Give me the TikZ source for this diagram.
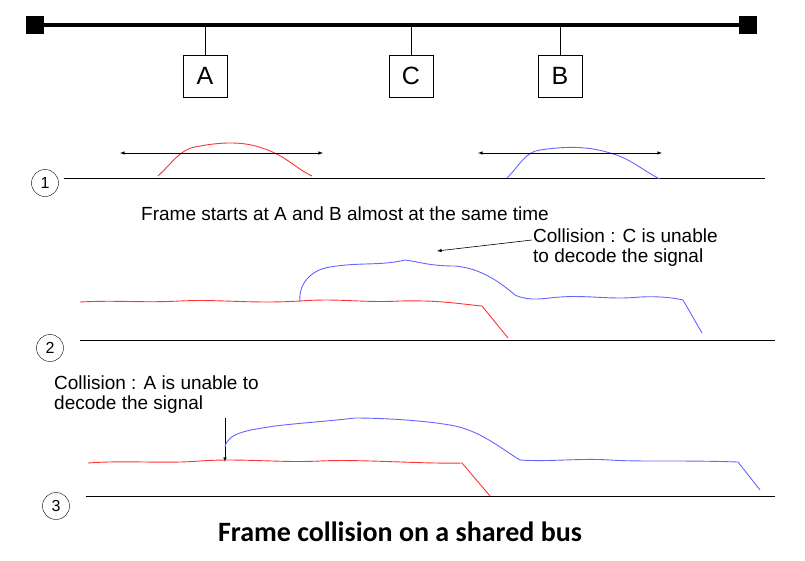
\documentclass[tikz,border=0pt]{standalone}
\usepackage{fontspec}
\setmainfont{Liberation Sans}
\newfontfamily\titlefont{Carlito}
\begin{document}
\begin{tikzpicture}[x=1pt,y=-1pt,
  station/.style={draw,thick,minimum width=44pt,minimum height=42pt,font=\fontsize{25}{28}\selectfont,inner sep=0pt},
  num/.style={draw,circle,minimum size=27pt,inner sep=0pt,font=\fontsize{16}{18}\selectfont},
  lbl/.style={font=\fontsize{19}{20}\selectfont,align=left,anchor=west,inner sep=1pt},
  redw/.style={draw=red!80!white,line width=0.9pt},
  bluew/.style={draw=blue!60!white,line width=0.9pt},
  arr/.style={-latex,line width=0.6pt}]
\useasboundingbox (0,0) rectangle (805,560);
% bus
\coordinate (L) at (35,25); \coordinate (R) at (748,25);
\draw[line width=3.2pt] (L) -- (R);
\fill (L) ++(-9,-9) rectangle ++(18,18);
\fill (R) ++(-9,-9) rectangle ++(18,18);
\node[station] (A) at (205,76) {A};
\node[station] (C) at (411,76) {C};
\node[station] (B) at (560,76) {B};
\draw (A.north) -- (205,25);
\draw (C.north) -- (411,25);
\draw (B.north) -- (560,25);
% row 1
\node[num] (n1) at (45,183) {1};
\coordinate (b1) at (765,178);
\draw (n1.east) ++(5,-5) -- (b1);
\draw[redw] (158,176) .. controls (175,160) and (180,150) .. (195,147) .. controls (215,143) and (240,140) .. (262,148) .. controls (285,155) and (295,168) .. (312,176);
\coordinate (a1l) at (120,153); \coordinate (a1r) at (323,153);
\draw[latex-latex,line width=0.6pt] (a1l) -- (a1r);
\draw[bluew] (507,178) .. controls (520,165) and (525,152) .. (540,150) .. controls (560,147) and (585,145) .. (610,153) .. controls (630,158) and (645,172) .. (660,179);
\coordinate (a2l) at (478,153); \coordinate (a2r) at (662,153);
\draw[latex-latex,line width=0.6pt] (a2l) -- (a2r);
\node[lbl] (t1) at (140,214) {Frame starts at A and B almost at the same time};
% row 2
\node[lbl] (tc) at (532,248) {Collision : C is unable\\to decode the signal};
\coordinate (tcarr) at (437,251);
\draw[arr] (tc.west) ++(0,-8) -- (tcarr);
\node[num] (n2) at (50,348) {2};
\draw (80,340) -- (775,340);
\draw[redw] (80,302) .. controls (120,300) and (140,303) .. (180,301) .. controls (220,299) and (250,304) .. (300,301) .. controls (340,298) and (360,303) .. (400,301) .. controls (440,300) and (460,304) .. (482,306) -- (508,338);
\draw[bluew] (300,302) .. controls (298,285) and (310,270) .. (330,267) .. controls (360,262) and (380,266) .. (405,260) .. controls (420,262) and (430,266) .. (455,266) .. controls (480,268) and (500,282) .. (515,295) .. controls (530,302) and (545,298) .. (560,297) .. controls (590,295) and (610,300) .. (640,297) .. controls (660,296) and (675,298) .. (683,300) -- (702,333);
% row 3
\node[lbl] (t3) at (53,395) {Collision : A is unable to\\decode the signal};
\coordinate (a3s) at (225,418); \coordinate (a3e) at (225,462);
\draw[arr] (a3s) -- (a3e);
\node[num] (n3) at (56,506) {3};
\draw (86,496) -- (775,496);
\draw[redw] (88,463) .. controls (130,460) and (160,464) .. (200,461) .. controls (240,458) and (280,463) .. (320,461) .. controls (360,459) and (420,464) .. (462,463) -- (490,496);
\draw[bluew] (225,447) .. controls (228,432) and (250,430) .. (275,426) .. controls (300,423) and (330,421) .. (355,418) .. controls (380,418) and (420,420) .. (450,425) .. controls (480,430) and (500,448) .. (520,460) .. controls (550,462) and (580,458) .. (610,460) .. controls (640,462) and (680,460) .. (738,462) -- (760,490);
% title
\node[font=\titlefont\bfseries\fontsize{28}{32}\selectfont] (title) at (400,532) {Frame collision on a shared bus};
\end{tikzpicture}
\end{document}
